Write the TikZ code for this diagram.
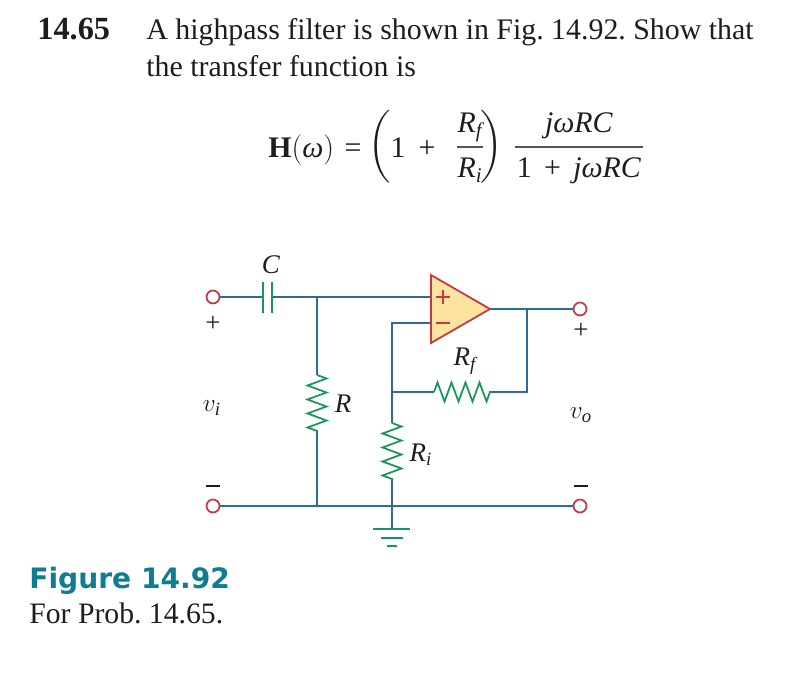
\documentclass[tikz,border=0pt]{standalone}
\usepackage{amsmath}
\usepackage{fontspec}
\setmainfont{Liberation Serif}
\newfontfamily\figfont{DejaVu Sans}
\usetikzlibrary{decorations.pathmorphing}
\definecolor{cktblue}{RGB}{47,106,154}
\definecolor{cktgreen}{RGB}{26,150,90}
\definecolor{cktred}{RGB}{200,54,63}
\definecolor{cktyellow}{RGB}{253,227,160}
\definecolor{figteal}{RGB}{14,124,145}
\definecolor{inkblack}{RGB}{30,28,28}
\newcommand{\iv}[1]{\textit{#1}}
\frenchspacing
\tikzset{
  wire/.style={cktblue, line width=1pt},
  part/.style={cktgreen, line width=1pt},
  resistor/.style={part, decorate, decoration={zigzag, segment length=0.28cm, amplitude=0.19cm}},
  terminal/.style={circle, draw=cktred, fill=white, line width=1pt, inner sep=0pt, minimum size=0.26cm},
  txtlabel/.style={inkblack, inner sep=0pt, font=\fontsize{15.3}{18}\selectfont},
  textline/.style={inkblack, inner sep=0pt, anchor=base west, font=\fontsize{17}{20}\selectfont},
  eqpart/.style={textline, anchor=base},
  fracbar/.style={inkblack!75, line width=0.7pt},
}

\begin{document}
\begin{tikzpicture}[x=0.02cm, y=-0.02cm]
\useasboundingbox (0,0) rectangle (798,678);

% Problem statement
\node[textline, font=\fontsize{18.4}{20}\selectfont] (num) at (37,40) {\textbf{14.65}};
\node[textline] (line1) at (146,40) {A highpass filter is shown in Fig. 14.92. Show that};
\node[textline] (line2) at (146,77) {the transfer function is};

% Transfer function
\node[textline] (eqh) at (268,158) {\(\textbf{H}(\iv{ω})\)};
\node[eqpart] (eqeq) at (353,158) {=};
\node[textline, anchor=center] (parl) at (381,146.5) {\(\left(\rule[-15pt]{0pt}{38pt}\right.\)};
\node[eqpart] (eqone) at (398,158) {1};
\node[eqpart] (eqplus) at (427,158) {+};
\node[eqpart] (eqrf) at (470,133) {\iv{R}\(_{\iv{f}}\)};
\node[eqpart] (eqri) at (470,178) {\iv{R}\(_{\iv{i}}\)};
\node[textline, anchor=center] (parr) at (491,146.5) {\(\left.\rule[-15pt]{0pt}{38pt}\right)\)};
\node[eqpart] (eqnum) at (579,133) {\iv{jωRC}};
\node[eqpart] (eqden) at (579,178) {1\hspace{7pt}+\hspace{7pt}\iv{jωRC}};
\draw[fracbar] (457,147) -- (483,147);
\draw[fracbar] (515,147) -- (643,147);

% Junctions
\coordinate (jtop) at (317,297);
\coordinate (jbot) at (317,506);
\coordinate (jfb) at (392,392);
\coordinate (jminus) at (392,323);
\coordinate (jri) at (392,506);
\coordinate (jout) at (527,309);
\coordinate (jrf) at (527,392);

% Parts ends
\coordinate (capl) at (263,297);
\coordinate (capr) at (272,297);
\coordinate (rtop) at (317,375);
\coordinate (rbot) at (317,431);
\coordinate (ritop) at (392,423);
\coordinate (ribot) at (392,479);
\coordinate (rfl) at (434,392);
\coordinate (rfr) at (490,392);
\coordinate (gnd) at (392,529);
\coordinate (ampin) at (431,297);
\coordinate (ampneg) at (431,323);
\coordinate (amptip) at (490,309);

% Wires
\draw[wire] (capr) -- (ampin);
\draw[wire] (jtop) -- (rtop);
\draw[wire] (rbot) -- (jbot);
\draw[wire] (ampneg) -- (jminus) -- (jfb) -- (ritop);
\draw[wire] (jfb) -- (rfl);
\draw[wire] (rfr) -- (jrf) -- (jout);
\draw[wire] (ribot) -- (jri) -- (gnd);

% Terminals
\foreach \name/\x/\y in {tin/213/297, tinb/213/506, tout/580/309, toutb/580/506} {
  \node[terminal] (\name) at (\x,\y) {};
}
\draw[wire] (tin) -- (capl);
\draw[wire] (amptip) -- (tout);
\draw[wire] (tinb) -- (toutb);

% Capacitor and resistors
\draw[part] (263,282) -- (263,313);
\draw[part] (272,282) -- (272,313);
\draw[resistor] (rtop) -- (rbot);
\draw[resistor] (ritop) -- (ribot);
\draw[resistor] (rfl) -- (rfr);

% Ground
\draw[part] (373,529) -- (410,529);
\draw[part] (381,538) -- (403,538);
\draw[part] (387,546) -- (397,546);

% Op amp
\draw[cktred, line width=1pt, fill=cktyellow, line join=miter] (431,275) -- (amptip) -- (431,343) -- cycle;
\draw[cktred, line width=1pt] (436,297) -- (450,297) (443,290) -- (443,304);
\draw[cktred, line width=1pt] (436,323) -- (450,323);

% Labels
\node[txtlabel] (lc) at (271,265) {\iv{C}};
\node[txtlabel] (lr) at (343,404) {\iv{R}};
\node[txtlabel] (lrf) at (465,361) {\iv{R}\(_{\iv{f}}\)};
\node[txtlabel] (lri) at (421,455) {\iv{R}\(_{\iv{i}}\)};
\node[txtlabel] (lvi) at (212,408) {\(v_{\iv{i}}\)};
\node[txtlabel] (lvo) at (581,415) {\(v_{\iv{o}}\)};
\node[txtlabel] (lpl) at (213,324) {+};
\node[txtlabel] (lpr) at (581,331) {+};
\draw[inkblack, line width=1pt] (206,486) -- (220,486);
\draw[inkblack, line width=1pt] (574,486) -- (588,486);

% Caption
\node[textline, text=figteal, font=\fontsize{16}{18}\figfont\bfseries] (figname) at (29,589) {Figure 14.92};
\node[textline, font=\fontsize{16.9}{20}\selectfont] (figcap) at (29,623) {For Prob. 14.65.};
\end{tikzpicture}
\end{document}
